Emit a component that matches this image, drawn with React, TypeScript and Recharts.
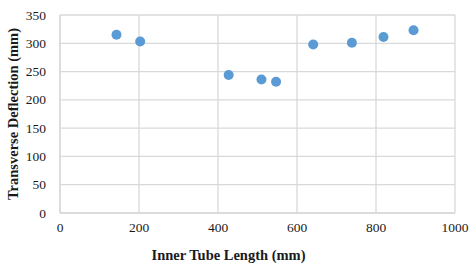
import { ScatterChart, Scatter, XAxis, YAxis, CartesianGrid, Label } from 'recharts';

const tubeLengths = [143, 203, 427, 510, 547, 641, 739, 819, 895];
const deflections = [315, 303, 244, 236, 232, 298, 301, 311, 323];
const xTicks = [0, 200, 400, 600, 800, 1000];
const yTicks = [0, 50, 100, 150, 200, 250, 300, 350];

const points = tubeLengths.map((len, i) => ({ x: len, y: deflections[i] }));

const font = "'Liberation Serif', serif";
const textColor = '#1a1a1a';
const tickStyle = { fontFamily: font, fontSize: 13.5, fill: textColor };
const titleStyle = { fontFamily: font, fontSize: 14.5, fontWeight: 'bold', fill: textColor };

const XTick = (props: any) => (
  <text x={props.x} y={props.y + 11} textAnchor="middle" style={tickStyle}>
    {props.payload.value}
  </text>
);

const YTick = (props: any) => (
  <text x={props.x - 1} y={props.y + 4.5} textAnchor="end" style={tickStyle}>
    {props.payload.value}
  </text>
);

// x title sits left of the plot centre, like the original export
const XTitle = (props: any) => {
  const vb = props.viewBox;
  return (
    <text x={vb.x + vb.width / 2 - 29} y={vb.y + vb.height - 7} textAnchor="middle" style={titleStyle}>
      Inner Tube Length (mm)
    </text>
  );
};

const App = () => {
  return (
    <div style={{ position: 'absolute', left: 0, top: 0, background: '#fff' }}>
      <ScatterChart
        width={474}
        height={267}
        margin={{ top: 15, right: 19, bottom: 0, left: 0 }}
      >
        <CartesianGrid stroke="#d9d9d9" strokeWidth={1.3} />
        <XAxis
          type="number"
          dataKey="x"
          domain={[0, 1000]}
          ticks={xTicks}
          height={54}
          tickLine={false}
          axisLine={{ stroke: '#d9d9d9', strokeWidth: 1.3 }}
          tick={<XTick />}
        >
          <Label content={<XTitle />} />
        </XAxis>
        <YAxis
          type="number"
          dataKey="y"
          domain={[0, 350]}
          ticks={yTicks}
          width={60}
          tickLine={false}
          tickMargin={7}
          axisLine={{ stroke: '#d9d9d9', strokeWidth: 1.3 }}
          tick={<YTick />}
        >
          <Label
            value="Transverse Deflection (mm)"
            angle={-90}
            position="insideLeft"
            offset={13}
            style={{ ...titleStyle, textAnchor: 'middle' }}
          />
        </YAxis>
        <Scatter
          data={points}
          fill="#5b9bd5"
          isAnimationActive={false}
          shape={(props: any) => <circle cx={props.cx} cy={props.cy} r={5} fill="#5b9bd5" />}
        />
      </ScatterChart>
    </div>
  );
};

export default App;
